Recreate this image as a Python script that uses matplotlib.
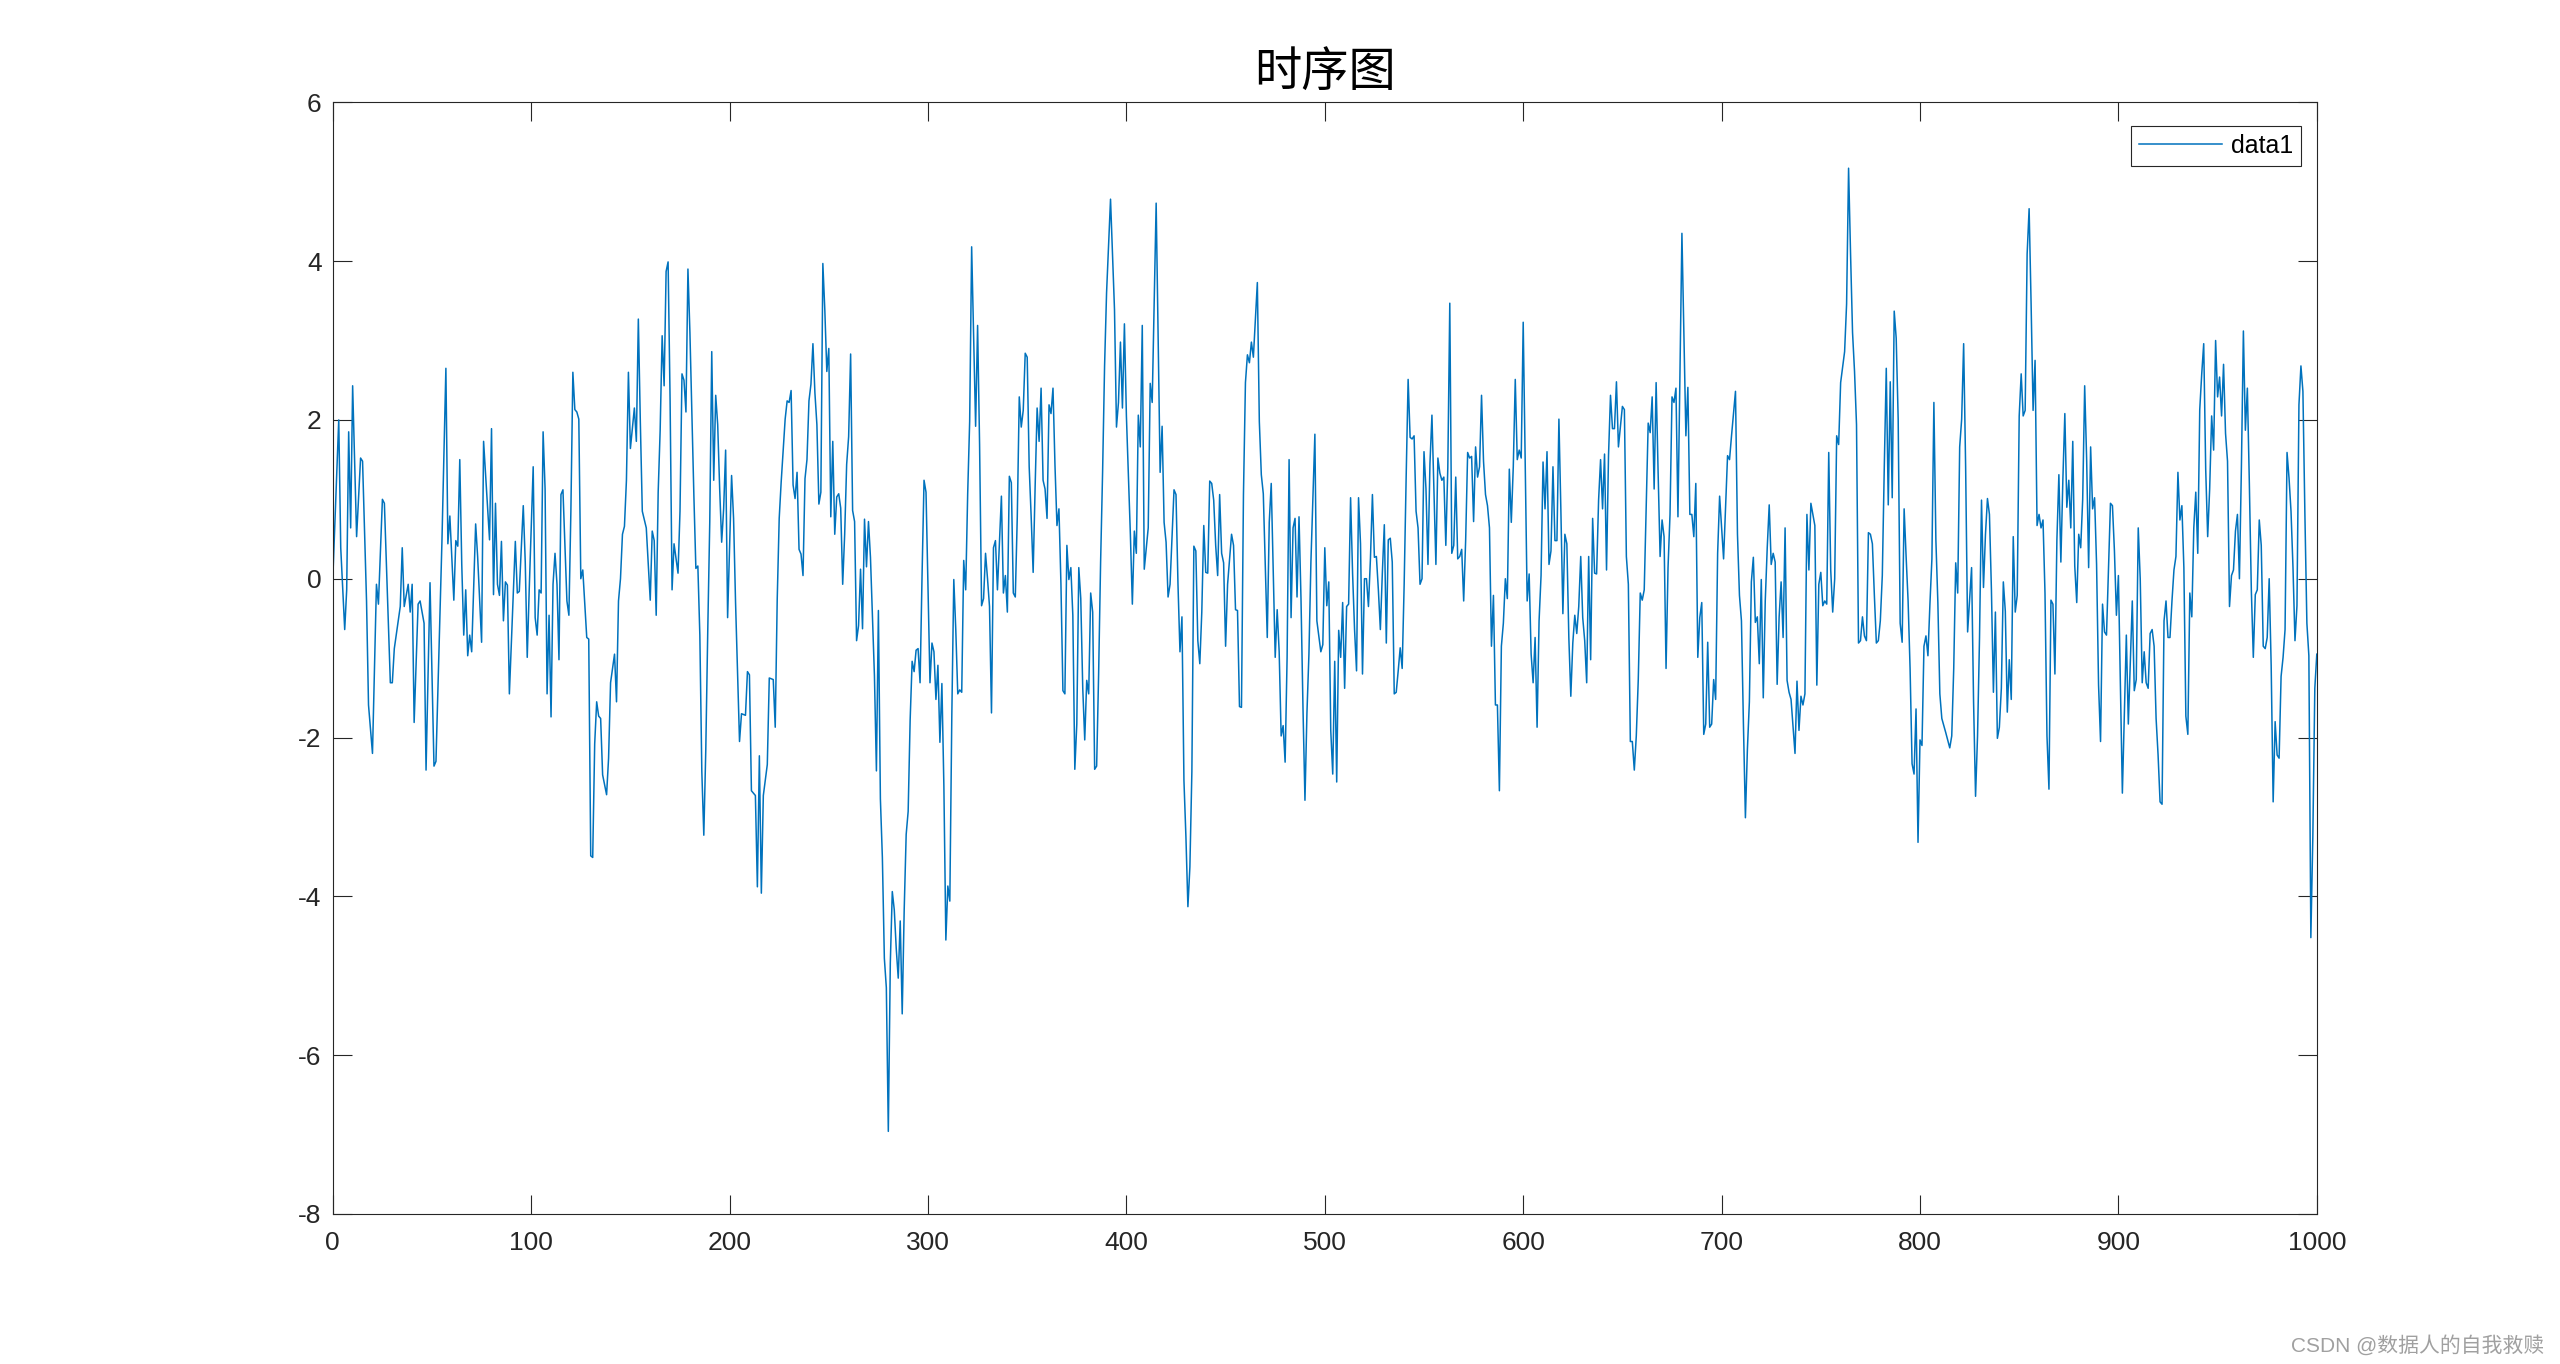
import matplotlib
matplotlib.use("Agg")
import matplotlib.pyplot as plt

# sample index and value, one block per hundred
t_000 = [0, 3, 4, 6, 7, 8, 9, 10, 12, 14, 15, 17, 18, 20, 22, 23, 25, 26, 29, 30,
         31, 34, 35, 36, 38, 39, 40, 41, 43, 44, 46, 47, 49, 51, 52, 55, 57, 58, 59, 61,
         62, 63, 64, 65, 66, 67, 68, 69, 70, 72, 73, 75, 76, 79, 80, 81, 82, 83, 84, 85,
         86, 87, 88, 89, 92, 93, 94, 96, 97, 98, 99]
y_000 = [0, 2.0, 0.39, -0.64, -0.14, 1.85, 0.64, 2.43, 0.53, 1.52, 1.48, -0.28, -1.59, -2.2, -0.07, -0.32, 1.0, 0.95, -1.31, -1.31,
         -0.88, -0.35, 0.39, -0.35, -0.07, -0.42, -0.07, -1.81, -0.32, -0.28, -0.56, -2.41, -0.05, -2.36, -2.3, 0.46, 2.65, 0.44, 0.79, -0.27,
         0.48, 0.41, 1.5, 0.18, -0.71, -0.14, -0.97, -0.71, -0.92, 0.69, 0.28, -0.8, 1.73, 0.49, 1.89, -0.2, 0.95, -0.07, -0.21, 0.47,
         -0.53, -0.04, -0.08, -1.45, 0.47, -0.18, -0.16, 0.92, 0.21, -0.99, -0.14]

t_100 = [101, 102, 103, 104, 105, 106, 107, 108, 109, 110, 111, 112, 113, 114, 115, 116, 118, 119, 120, 121,
         122, 123, 124, 125, 126, 128, 129, 130, 131, 132, 133, 134, 135, 136, 138, 139, 140, 142, 143, 144,
         145, 146, 147, 148, 149, 150, 152, 153, 154, 155, 156, 158, 160, 161, 162, 163, 164, 165, 166, 167,
         168, 169, 170, 171, 172, 174, 175, 176, 177, 178, 179, 180, 181, 182, 183, 184, 185, 186, 187, 188,
         189, 190, 191, 192, 193, 194, 195, 196, 197]
y_100 = [1.41, -0.49, -0.71, -0.14, -0.18, 1.85, 1.13, -1.45, -0.46, -1.74, -0.07, 0.32, -0.07, -1.02, 1.06, 1.12, -0.28, -0.46, 0.85, 2.6,
         2.13, 2.1, 2.01, 0, 0.11, -0.74, -0.76, -3.49, -3.51, -2.08, -1.55, -1.73, -1.76, -2.47, -2.72, -2.26, -1.31, -0.95, -1.55, -0.28,
         0, 0.56, 0.66, 1.24, 2.6, 1.64, 2.15, 1.73, 3.27, 1.98, 0.85, 0.64, -0.27, 0.6, 0.48, -0.46, 1.09, 1.87, 3.06, 2.43,
         3.87, 3.99, 2.26, -0.14, 0.44, 0.07, 0.85, 2.58, 2.5, 2.1, 3.9, 3.1, 2.05, 1.04, 0.13, 0.16, -0.71, -2.43, -3.23, -2.15,
         -0.64, 0.71, 2.86, 1.24, 2.31, 1.94, 1.13, 0.46, 0.88]

t_200 = [198, 199, 201, 202, 203, 205, 206, 208, 209, 210, 211, 213, 214, 215, 216, 217, 219, 220, 222, 223,
         224, 225, 226] + list(range(228, 298))
y_200 = [1.62, -0.49, 1.3, 0.76, -0.3, -2.05, -1.7, -1.72, -1.17, -1.21, -2.67, -2.73, -3.88, -2.23, -3.96, -2.73, -2.34, -1.25, -1.27, -1.87,
         -0.26, 0.76, 1.22, 2.01, 2.24, 2.22, 2.37, 1.18, 1.01, 1.34, 0.37, 0.31, 0.04, 1.26, 1.5, 2.24, 2.45, 2.96, 2.34, 1.94,
         0.94, 1.09, 3.97, 3.38, 2.61, 2.9, 0.78, 1.73, 0.56, 1.03, 1.07, 0.89, -0.07, 0.56, 1.44, 1.79, 2.83, 0.86, 0.72, -0.78,
         -0.59, 0.12, -0.63, 0.75, 0.15, 0.72, 0.27, -0.47, -1.22, -2.42, -0.4, -2.77, -3.51, -4.78, -5.15, -6.96, -4.84, -3.94, -4.17, -4.66,
         -5.03, -4.31, -5.48, -4.17, -3.22, -2.93, -1.78, -1.04, -1.17, -0.9, -0.88, -1.31, 0.04]

t_300 = list(range(298, 391)) + [392, 394, 395, 396, 397]
y_300 = [1.24, 1.09, -0.14, -1.31, -0.81, -0.92, -1.52, -1.09, -2.06, -1.32, -2.61, -4.55, -3.87, -4.06, -1.73, -0.01, -0.64, -1.45, -1.4, -1.43,
         0.23, -0.14, 1.07, 1.98, 4.18, 3.02, 1.92, 3.19, 1.69, -0.34, -0.25, 0.32, 0, -0.35, -1.69, 0.39, 0.48, -0.14, 0.44, 1.04,
         -0.18, 0.04, -0.42, 1.29, 1.21, -0.18, -0.23, 0.78, 2.29, 1.91, 2.12, 2.84, 2.79, 1.41, 0.78, 0.08, 1.16, 2.15, 1.73, 2.4,
         1.24, 1.13, 0.76, 2.19, 2.08, 2.4, 1.43, 0.67, 0.88, -0.06, -1.41, -1.45, 0.42, -0.01, 0.14, -0.46, -2.4, -1.83, 0.14, -0.25,
         -1.38, -2.03, -1.28, -1.45, -0.18, -0.42, -2.4, -2.36, -1.2, 0.21, 1.34, 2.68, 3.6, 4.78, 3.39, 1.91, 2.22, 2.98]

t_400 = [398, 399, 400, 402, 403, 404, 405, 406, 407, 408, 409, 411, 412, 413, 415, 417, 418, 419, 420, 421,
         422, 424, 425, 426, 427, 428, 429, 430, 431, 432] + list(range(433, 465)) + \
        [466, 467, 468, 469, 471, 472, 473, 475, 476, 477] + list(range(478, 494)) + [495, 496]
y_400 = [2.15, 3.21, 2.05, 0.56, -0.32, 0.6, 0.32, 2.06, 1.66, 3.19, 0.12, 0.64, 2.46, 2.22, 4.73, 1.34, 1.92, 0.71, 0.46, -0.23,
         -0.07, 1.12, 1.06, -0.07, -0.92, -0.48, -2.54, -3.25, -4.13, -3.63,
         -2.43, 0.41, 0.35, -0.78, -1.07, -0.42, 0.67, 0.08, 0.07, 1.23, 1.2, 0.99, 0.42, 0.04, 1.06, 0.32, 0.2, -0.85, -0.07, 0.25,
         0.56, 0.42, -0.39, -0.4, -1.61, -1.62, 1.06, 2.47, 2.82, 2.72, 2.98, 2.79,
         3.73, 1.98, 1.31, 1.07, -0.74, 0.71, 1.2, -0.99, -0.39, -0.92,
         -1.98, -1.85, -2.31, -0.99, 1.5, -0.49, 0.64, 0.76, -0.23, 0.78, -0.25, -1.62, -2.79, -1.69, -0.95, 0.21,
         1.82, -0.53]

t_500 = list(range(498, 601))
y_500 = [-0.92, -0.83, 0.39, -0.34, -0.04, -1.91, -2.46, -1.04, -2.56, -0.65, -0.99, -0.3, -1.38, -0.35, -0.32, 1.02, 0.07, -0.64, -1.16, 1.02,
         0.44, -1.2, 0, 0, -0.35, 0.25, 1.06, 0.27, 0.28, -0.14, -0.64, 0.07, 0.68, -0.81, 0.49, 0.51, 0.21, -1.45, -1.43, -1.16,
         -0.87, -1.13, -0.07, 1.27, 2.51, 1.78, 1.76, 1.8, 0.85, 0.64, -0.07, 0, 1.6, 1.13, 0.18, 1.45, 2.06, 1.13, 0.18, 1.52,
         1.33, 1.24, 1.28, 0.42, 1.4, 3.47, 0.32, 0.42, 1.28, 0.25, 0.28, 0.37, -0.28, 0.49, 1.59, 1.52, 1.54, 0.72, 1.66, 1.28,
         1.41, 2.31, 1.48, 1.06, 0.92, 0.64, -0.85, -0.21, -1.59, -1.59, -2.67, -0.85, -0.56, 0, -0.25, 1.38, 0.71, 1.41, 2.51, 1.5,
         1.62, 1.52, 3.23]

t_600 = list(range(601, 679)) + [680] + list(range(682, 700))
y_600 = [1.52, -0.28, 0.06, -0.95, -1.31, -0.74, -1.87, -0.53, 0.04, 1.47, 0.88, 1.6, 0.18, 0.35, 1.41, 0.48, 0.48, 2.01, 0.85, -0.44,
         0.56, 0.44, -0.74, -1.48, -0.81, -0.46, -0.69, -0.35, 0.28, -0.49, -0.78, -1.31, 0.28, -1.02, 0.76, 0.07, 0.06, 0.99, 1.5, 0.88,
         1.57, 0.11, 1.55, 2.31, 1.89, 1.89, 2.48, 1.66, 1.91, 2.17, 2.13, 0.28, -0.07, -2.05, -2.05, -2.41, -1.98, -1.27, -0.18, -0.27,
         -0.14, 0.92, 1.96, 1.84, 2.29, 1.13, 2.47, 1.34, 0.28, 0.74, 0.53, -1.13, 0.14, 0.81, 2.29, 2.22, 2.4, 0.78,
         4.35,
         1.8, 2.41, 0.81, 0.81, 0.53, 1.2, -0.99, -0.49, -0.3, -1.96, -1.83, -0.8, -1.87, -1.83, -1.27, -1.52, 0.32, 1.04]

t_700 = [701, 703, 704, 705] + list(range(707, 736)) + list(range(737, 746)) + \
        list(range(747, 761)) + list(range(762, 801))
y_700 = [0.25, 1.55, 1.5, 1.8,
         2.36, 0.56, -0.21, -0.53, -1.83, -3.01, -2.15, -1.55, -0.04, 0.27, -0.55, -0.48, -1.07, -0.01, -1.5, -0.28, 0.39, 0.93, 0.18, 0.32,
         0.21, -1.33, -0.48, -0.04, -0.74, 0.64, -1.28, -1.43, -1.52,
         -2.2, -1.29, -1.91, -1.48, -1.59, -1.45, 0.81, 0.11, 0.95,
         0.67, -1.34, -0.07, 0.08, -0.34, -0.28, -0.32, 1.59, 0.11, -0.42, 0, 1.8, 1.69, 2.47,
         2.86, 3.46, 5.17, 4.09, 3.1, 2.61, 1.94, -0.81, -0.78, -0.48, -0.72, -0.78, 0.58, 0.56, 0.44, -0.21, -0.81, -0.78, -0.53, 0.04,
         1.41, 2.65, 0.93, 2.48, 1.02, 3.37, 3.03, 2.01, -0.56, -0.8, 0.88, 0.28, -0.28, -1.13, -2.33, -2.46, -1.64, -3.32, -2.03]

t_800 = [801, 802, 803, 804, 805, 806, 807, 808, 809, 810, 811, 813, 815] + list(range(816, 900))
y_800 = [-2.1, -0.85, -0.72, -0.97, -0.32, 0.25, 2.22, 0.49, -0.3, -1.45, -1.76, -1.94, -2.13,
         -1.98, -1.13, 0.2, -0.18, 1.66, 2.01, 2.96, 1.41, -0.67, -0.27, 0.14, -1.55, -2.74, -1.98, -0.74, 0.99, -0.11, 0.56, 1.01, 0.81,
         -0.14, -1.43, -0.42, -2.01, -1.87, -1.38, -0.04, -0.41, -1.68, -1.02, -1.52, 0.53, -0.42, -0.21, 2.05, 2.58, 2.05, 2.12, 4.09, 4.66,
         3.46, 2.12, 2.75, 0.67, 0.81, 0.64, 0.74, -0.18, -1.98, -2.65, -0.27, -0.32, -1.2, 0.49, 1.31, 0.21, 1.24, 2.08, 0.9, 1.24,
         0.64, 1.73, 0.16, -0.3, 0.56, 0.39, 1.0, 2.43, 1.5, 0.14, 1.66, 0.88, 1.02, 0.18, -1.34, -2.05, -0.32, -0.67, -0.71, 0.11,
         0.95, 0.92, 0.35, -0.46]

t_900 = [900, 902, 904, 905] + list(range(907, 1001))
y_900 = [0.04, -2.7, -0.71, -1.83,
         -0.28, -1.41, -1.27, 0.64, 0, -1.31, -0.92, -1.31, -1.38, -0.69, -0.64, -0.85, -1.76, -2.22, -2.81, -2.84, -0.53, -0.28, -0.74, -0.74,
         -0.28, 0.11, 0.28, 1.34, 0.74, 0.92, 0.14, -1.73, -1.96, -0.18, -0.48, 0.64, 1.09, 0.32, 2.13, 2.58, 2.96, 1.38, 0.53, 1.13,
         2.05, 1.62, 3.0, 2.29, 2.54, 2.05, 2.7, 1.83, 1.48, -0.35, 0.04, 0.11, 0.6, 0.81, 0, 1.41, 3.12, 1.87, 2.4, 1.2,
         -0.14, -0.99, -0.2, -0.14, 0.74, 0.42, -0.85, -0.88, -0.74, 0, -1.09, -2.81, -1.8, -2.22, -2.26, -1.23, -0.99, -0.64, 1.59, 1.27,
         0.85, 0.14, -0.78, -0.34, 2.19, 2.68, 2.36, 0.81, -0.56, -0.97, -4.52, -3.25, -1.38, -0.95]

t = t_000 + t_100 + t_200 + t_300 + t_400 + t_500 + t_600 + t_700 + t_800 + t_900
y = y_000 + y_100 + y_200 + y_300 + y_400 + y_500 + y_600 + y_700 + y_800 + y_900
for a, b in [(t_000, y_000), (t_100, y_100), (t_200, y_200), (t_300, y_300), (t_400, y_400),
             (t_500, y_500), (t_600, y_600), (t_700, y_700), (t_800, y_800), (t_900, y_900)]:
    assert len(a) == len(b), (a[0], len(a), len(b))

plt.rcParams['axes.unicode_minus'] = False
plt.rcParams['font.family'] = ['Liberation Sans', 'Noto Sans CJK SC']

axcol = '#262626'
fig = plt.figure(figsize=(25.6, 13.64), dpi=100)
ax = fig.add_axes([0.13, 0.11, 0.775, 0.815])

ax.plot(t, y, color='#0072BD', linewidth=1.1, label='data1')

ax.set_xlim(0, 1000)
ax.set_ylim(-8, 6)
ax.set_xticks(range(0, 1001, 100))
ax.set_yticks(range(-8, 7, 2))
ax.tick_params(direction='in', length=14, width=0.8, colors=axcol, labelsize=19,
               top=True, right=True)
ax.tick_params(axis='x', pad=12)
ax.tick_params(axis='y', pad=8)
for s in ax.spines.values():
    s.set_color(axcol)
    s.set_linewidth(0.8)

ax.set_title('时序图', fontsize=34, family='Noto Sans CJK SC', pad=12)

leg = ax.legend(loc='upper right', bbox_to_anchor=(0.992, 0.979), borderaxespad=0,
                fontsize=18, fancybox=False, framealpha=1, edgecolor=axcol,
                handlelength=3.3, handletextpad=0.35, borderpad=0.32)
leg.get_frame().set_linewidth(0.8)

fig.text(0.994, 0.014, 'CSDN @数据人的自我救赎', ha='right', va='center',
         fontsize=15, color='#a0a0a0')

fig.savefig('out.png', dpi=100, facecolor='white')
